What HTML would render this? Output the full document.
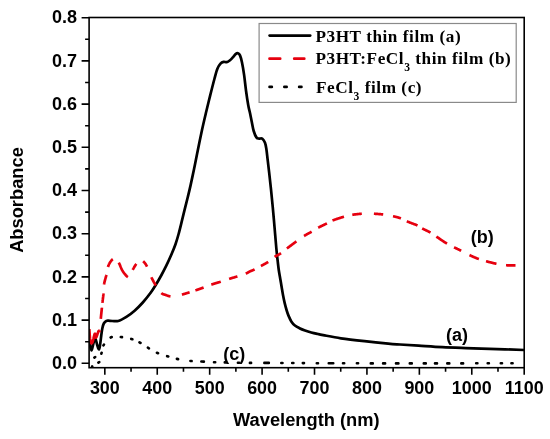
<!DOCTYPE html>
<html><head><meta charset="utf-8"><style>
html,body{margin:0;padding:0;background:#fff;width:550px;height:439px;overflow:hidden}
svg{display:block}
.t{font-family:"Liberation Sans",Arial,sans-serif;font-weight:bold;fill:#000}
.s{font-family:"Liberation Serif","Times New Roman",serif;font-weight:bold;fill:#000}
</style></head><body>
<svg width="550" height="439" viewBox="0 0 550 439">
<rect width="550" height="439" fill="#fff"/>
<defs><clipPath id="pc"><rect x="89.10" y="17.50" width="435.10" height="350.20"/></clipPath></defs>
<g clip-path="url(#pc)">
<path d="M89.40 342.50C89.75 343.83 90.82 350.42 91.50 350.50C92.18 350.58 92.85 345.00 93.50 343.00C94.15 341.00 94.78 338.17 95.40 338.50C96.02 338.83 96.60 343.17 97.20 345.00C97.80 346.83 98.50 349.67 99.00 349.50C99.50 349.33 99.83 346.25 100.20 344.00C100.57 341.75 100.85 338.58 101.20 336.00C101.55 333.42 101.87 330.58 102.30 328.50C102.73 326.42 103.13 324.77 103.80 323.50C104.47 322.23 105.27 321.35 106.30 320.90C107.33 320.45 108.02 320.78 110.00 320.80C111.98 320.82 115.47 321.65 118.20 321.00C120.93 320.35 123.67 318.62 126.40 316.90C129.13 315.18 131.87 313.10 134.60 310.70C137.33 308.30 140.07 305.57 142.80 302.50C145.53 299.43 148.80 295.30 151.00 292.30C153.20 289.30 154.30 287.30 156.00 284.50C157.70 281.70 159.48 278.63 161.20 275.50C162.92 272.37 164.60 269.20 166.30 265.70C168.00 262.20 169.87 258.08 171.40 254.50C172.93 250.92 174.30 247.62 175.50 244.20C176.70 240.78 177.57 237.75 178.60 234.00C179.63 230.25 180.68 225.80 181.70 221.70C182.72 217.60 183.68 213.52 184.70 209.40C185.72 205.28 186.83 200.97 187.80 197.00C188.77 193.03 189.47 190.23 190.50 185.60C191.53 180.97 192.87 174.67 194.00 169.20C195.13 163.73 195.97 159.33 197.30 152.80C198.63 146.27 200.52 136.83 202.00 130.00C203.48 123.17 204.83 117.57 206.20 111.80C207.57 106.03 208.83 100.87 210.20 95.40C211.57 89.93 213.20 83.45 214.40 79.00C215.60 74.55 216.38 71.27 217.40 68.70C218.42 66.13 219.47 64.73 220.50 63.60C221.53 62.47 222.57 62.15 223.60 61.90C224.63 61.65 225.68 62.33 226.70 62.10C227.72 61.87 228.68 61.28 229.70 60.50C230.72 59.72 231.77 58.50 232.80 57.40C233.83 56.30 235.05 54.58 235.90 53.90C236.75 53.22 237.22 53.05 237.90 53.30C238.58 53.55 239.32 53.87 240.00 55.40C240.68 56.93 241.32 59.25 242.00 62.50C242.68 65.75 243.42 70.10 244.10 74.90C244.78 79.70 245.42 86.28 246.10 91.30C246.78 96.32 247.55 101.38 248.20 105.00C248.85 108.62 249.40 110.18 250.00 113.00C250.60 115.82 251.18 118.90 251.80 121.90C252.42 124.90 252.93 128.42 253.70 131.00C254.47 133.58 255.50 136.13 256.40 137.40C257.30 138.67 258.13 138.40 259.10 138.60C260.07 138.80 261.22 137.90 262.20 138.60C263.18 139.30 264.30 141.03 265.00 142.80C265.70 144.57 265.95 146.32 266.40 149.20C266.85 152.08 267.23 156.15 267.70 160.10C268.17 164.05 268.65 168.03 269.20 172.90C269.75 177.77 270.40 183.52 271.00 189.30C271.60 195.08 272.20 201.15 272.80 207.60C273.40 214.05 274.02 221.27 274.60 228.00C275.18 234.73 275.77 242.33 276.30 248.00C276.83 253.67 277.38 258.30 277.80 262.00C278.22 265.70 278.40 267.47 278.80 270.20C279.20 272.93 279.73 275.65 280.20 278.40C280.67 281.15 281.13 283.95 281.60 286.70C282.07 289.45 282.48 292.17 283.00 294.90C283.52 297.63 284.08 300.50 284.70 303.10C285.32 305.70 286.05 308.37 286.70 310.50C287.35 312.63 287.83 314.08 288.60 315.90C289.37 317.72 290.25 319.80 291.30 321.40C292.35 323.00 293.53 324.37 294.90 325.50C296.27 326.63 297.82 327.37 299.50 328.20C301.18 329.03 303.03 329.78 305.00 330.50C306.97 331.22 309.18 331.92 311.30 332.50C313.42 333.08 315.72 333.57 317.70 334.00C319.68 334.43 319.33 334.38 323.20 335.10C327.07 335.82 334.02 337.28 340.90 338.30C347.78 339.32 356.62 340.32 364.50 341.20C372.38 342.08 382.28 343.05 388.20 343.60C394.12 344.15 394.93 344.15 400.00 344.50C405.07 344.85 411.55 345.25 418.60 345.70C425.65 346.15 434.42 346.80 442.30 347.20C450.18 347.60 458.03 347.83 465.90 348.10C473.77 348.37 479.78 348.48 489.50 348.80C499.22 349.12 518.42 349.80 524.20 350.00" fill="none" stroke="#000" stroke-width="2.70" stroke-linejoin="round" stroke-linecap="round"/>
<path d="M89.30 329.00L89.32 329.29L89.35 329.63L89.38 330.02L89.41 330.47L89.44 330.95L89.48 331.47L89.52 332.02L89.56 332.60L89.60 333.20L89.64 333.81L89.68 334.44L89.73 335.07L89.78 335.70L89.83 336.33L89.88 336.95L89.93 337.56L89.99 338.15L90.04 338.71L90.10 339.24L90.16 339.74L90.22 340.20L90.28 340.62L90.34 340.99L90.40 341.30L90.46 341.57L90.53 341.83L90.60 342.06L90.66 342.27L90.73 342.46L90.80 342.64L90.88 342.79L90.95 342.92L91.03 343.04L91.10 343.13L91.18 343.21L91.26 343.27L91.34 343.31L91.43 343.33L91.51 343.34L91.59 343.32L91.68 343.29L91.76 343.24L91.85 343.18L91.94 343.10L92.03 343.00L92.12 342.88L92.21 342.75L92.30 342.60L92.39 342.42L92.49 342.18L92.59 341.90L92.70 341.57L92.80 341.21L92.91 340.81L93.02 340.39L93.14 339.95L93.25 339.49L93.36 339.01L93.48 338.53L93.59 338.04L93.71 337.56L93.82 337.08L93.93 336.62L94.04 336.17L94.15 335.75L94.25 335.35L94.35 334.98L94.45 334.65L94.55 334.37L94.64 334.12L94.72 333.93L94.80 333.80L94.87 333.73L94.94 333.71L95.00 333.74L95.06 333.82L95.11 333.94L95.16 334.10L95.21 334.29L95.25 334.51L95.29 334.75L95.33 335.00L95.36 335.27L95.40 335.54L95.44 335.82L95.47 336.09L95.51 336.36L95.55 336.61L95.59 336.85L95.64 337.06L95.69 337.25L95.74 337.41L95.80 337.52L95.86 337.60L95.93 337.62L96.00 337.60L96.08 337.53L96.17 337.41L96.26 337.26L96.36 337.07L96.46 336.85L96.56 336.60L96.67 336.33L96.78 336.04L96.90 335.73L97.01 335.40L97.13 335.07L97.24 334.73L97.36 334.38L97.48 334.03L97.59 333.69L97.71 333.35L97.82 333.02L97.93 332.71L98.04 332.41L98.14 332.14L98.24 331.88L98.33 331.66L98.42 331.46L98.50 331.30L98.58 331.17L98.65 331.06L98.73 330.98L98.80 330.92L98.86 330.87L98.93 330.85L98.99 330.83L99.05 330.83L99.11 330.84L99.17 330.85L99.22 330.88L99.27 330.90L99.33 330.93L99.38 330.95L99.42 330.97L99.47 330.99L99.52 331.00L99.56 331.00L99.60 330.99L99.64 330.97L99.68 330.93L99.72 330.88L99.76 330.80L99.80 330.70L99.84 330.58L99.87 330.46L99.90 330.33 M100.80 318.80L100.80 318.80L100.83 318.40L100.87 317.99L100.91 317.55L100.96 317.09L101.00 316.62L101.05 316.13L101.10 315.63L101.14 315.13L101.19 314.61L101.25 314.09L101.30 313.57L101.35 313.05L101.40 312.53L101.45 312.02L101.51 311.51L101.56 311.01L101.60 310.52L101.65 310.04L101.70 309.58L101.74 309.14L101.79 308.72L101.83 308.32L101.87 307.95L101.90 307.60L101.90 307.60 M102.40 302.80L102.40 302.80L102.43 302.49L102.47 302.17L102.51 301.83L102.56 301.48L102.60 301.12L102.65 300.74L102.70 300.35L102.74 299.96L102.79 299.55L102.85 299.14L102.90 298.72L102.95 298.30L103.00 297.87L103.05 297.45L103.11 297.02L103.16 296.59L103.20 296.16L103.25 295.74L103.30 295.31L103.34 294.90L103.39 294.49L103.43 294.08L103.47 293.69L103.50 293.30L103.50 293.30 M104.00 284.50L104.00 284.50L104.06 284.11L104.14 283.72L104.21 283.33L104.30 282.93L104.39 282.52L104.49 282.12L104.59 281.71L104.69 281.30L104.80 280.88L104.91 280.47L105.02 280.06L105.13 279.64L105.25 279.23L105.36 278.82L105.48 278.41L105.59 278.00L105.70 277.60L105.81 277.20L105.92 276.80L106.02 276.41L106.13 276.02L106.22 275.64L106.31 275.27L106.40 274.90L106.40 274.90 M108.00 267.00L108.00 267.00L108.08 266.75L108.15 266.50L108.23 266.27L108.30 266.04L108.38 265.82L108.45 265.61L108.53 265.40L108.61 265.20L108.69 265.01L108.76 264.82L108.84 264.64L108.92 264.46L109.01 264.29L109.09 264.12L109.17 263.95L109.26 263.79L109.35 263.62L109.43 263.46L109.52 263.30L109.62 263.14L109.71 262.98L109.80 262.82L109.90 262.66L110.00 262.50L110.10 262.34L110.21 262.17L110.31 262.01L110.42 261.85L110.53 261.69L110.65 261.53L110.76 261.37L110.88 261.21L111.00 261.06L111.12 260.90L111.24 260.75L111.36 260.61L111.48 260.46L111.60 260.32L111.72 260.19L111.84 260.06L111.97 259.93L112.09 259.81L112.21 259.69L112.33 259.58L112.45 259.48L112.57 259.38L112.68 259.28L112.80 259.20L112.80 259.20 M118.80 262.70L118.80 262.70L118.95 262.97L119.10 263.26L119.25 263.56L119.40 263.88L119.55 264.21L119.70 264.55L119.85 264.91L120.01 265.27L120.16 265.64L120.32 266.02L120.47 266.40L120.63 266.78L120.79 267.17L120.95 267.55L121.12 267.94L121.28 268.32L121.45 268.70L121.62 269.07L121.79 269.43L121.97 269.79L122.15 270.14L122.33 270.47L122.51 270.79L122.70 271.10L122.89 271.40L123.10 271.71L123.31 272.02L123.52 272.33L123.75 272.64L123.97 272.95L124.21 273.25L124.44 273.56L124.68 273.86L124.92 274.15L125.16 274.44L125.39 274.72L125.63 275.00L125.87 275.26L126.10 275.51L126.33 275.75L126.55 275.98L126.77 276.19L126.98 276.39L127.18 276.57L127.38 276.73L127.56 276.87L127.74 277.00L127.90 277.10L127.90 277.10 M132.70 269.90L132.70 269.90L132.83 269.66L132.96 269.41L133.09 269.16L133.23 268.90L133.38 268.64L133.52 268.38L133.67 268.12L133.82 267.86L133.98 267.60L134.13 267.33L134.29 267.07L134.44 266.81L134.60 266.55L134.76 266.29L134.92 266.03L135.08 265.77L135.24 265.52L135.39 265.28L135.55 265.03L135.70 264.79L135.86 264.56L136.01 264.33L136.15 264.11L136.30 263.90L136.30 263.90 M143.10 261.20L143.10 261.20L143.26 261.35L143.41 261.50L143.57 261.66L143.73 261.82L143.90 261.99L144.06 262.17L144.22 262.35L144.39 262.54L144.55 262.74L144.72 262.94L144.88 263.15L145.05 263.38L145.22 263.60L145.39 263.84L145.56 264.08L145.73 264.34L145.90 264.60L146.07 264.87L146.24 265.15L146.41 265.44L146.58 265.74L146.75 266.05L146.93 266.37L147.10 266.70L147.10 266.70 M151.40 277.30L151.40 277.30L151.58 277.69L151.76 278.07L151.95 278.44L152.13 278.81L152.31 279.18L152.49 279.54L152.67 279.89L152.85 280.24L153.03 280.58L153.21 280.92L153.39 281.26L153.58 281.59L153.76 281.93L153.94 282.25L154.13 282.58L154.32 282.91L154.51 283.23L154.70 283.56L154.89 283.88L155.09 284.20L155.29 284.52L155.49 284.85L155.69 285.17L155.90 285.50L155.90 285.50 M161.40 293.00L161.40 293.00L161.60 293.19L161.79 293.36L161.97 293.51L162.15 293.65L162.33 293.77L162.50 293.88L162.67 293.98L162.84 294.06L163.00 294.14L163.16 294.21L163.32 294.27L163.48 294.32L163.64 294.37L163.80 294.42L163.96 294.46L164.12 294.50L164.28 294.54L164.44 294.58L164.61 294.63L164.78 294.67L164.95 294.72L165.13 294.77L165.31 294.83L165.50 294.90L165.69 294.97L165.88 295.05L166.08 295.12L166.28 295.20L166.47 295.27L166.68 295.35L166.88 295.42L167.08 295.50L167.29 295.58L167.49 295.65L167.70 295.72L167.91 295.79L168.12 295.86L168.34 295.93L168.55 295.99L168.76 296.06L168.98 296.11L169.19 296.17L169.41 296.22L169.63 296.26L169.84 296.31L170.06 296.34L170.28 296.37L170.50 296.40L170.50 296.40 M181.90 294.60L181.90 294.60L182.19 294.52L182.48 294.44L182.79 294.35L183.10 294.26L183.42 294.17L183.74 294.08L184.07 293.98L184.40 293.89L184.74 293.79L185.08 293.69L185.42 293.58L185.76 293.48L186.10 293.38L186.44 293.28L186.77 293.17L187.11 293.07L187.44 292.97L187.77 292.87L188.09 292.77L188.41 292.67L188.72 292.57L189.02 292.48L189.31 292.39L189.60 292.30L189.60 292.30 M195.40 290.40L195.40 290.40L195.70 290.30L196.00 290.19L196.31 290.09L196.63 289.97L196.96 289.86L197.29 289.75L197.63 289.63L197.97 289.51L198.32 289.39L198.67 289.26L199.03 289.14L199.38 289.01L199.74 288.89L200.10 288.76L200.46 288.63L200.81 288.50L201.17 288.38L201.53 288.25L201.88 288.12L202.23 287.99L202.58 287.87L202.93 287.74L203.27 287.62L203.60 287.50L203.60 287.50 M211.30 284.60L211.30 284.60L211.66 284.48L212.03 284.36L212.41 284.24L212.79 284.12L213.18 283.99L213.58 283.87L213.98 283.75L214.38 283.63L214.78 283.51L215.19 283.39L215.60 283.27L216.01 283.14L216.42 283.02L216.84 282.90L217.25 282.78L217.66 282.66L218.06 282.54L218.47 282.42L218.87 282.30L219.27 282.18L219.66 282.06L220.04 281.94L220.43 281.82L220.80 281.70L220.80 281.70 M229.10 278.90L229.10 278.90L229.45 278.79L229.79 278.68L230.14 278.58L230.48 278.47L230.83 278.36L231.17 278.26L231.52 278.16L231.87 278.06L232.21 277.95L232.56 277.85L232.90 277.75L233.25 277.65L233.60 277.55L233.94 277.45L234.29 277.35L234.63 277.24L234.98 277.14L235.32 277.04L235.67 276.94L236.02 276.83L236.36 276.72L236.71 276.62L237.05 276.51L237.40 276.40L237.40 276.40 M245.70 273.60L245.70 273.60L245.96 273.50L246.20 273.40L246.43 273.29L246.64 273.20L246.85 273.10L247.05 273.00L247.24 272.91L247.42 272.81L247.59 272.72L247.76 272.63L247.92 272.54L248.08 272.45L248.24 272.36L248.39 272.27L248.54 272.18L248.69 272.10L248.84 272.01L249.00 271.92L249.15 271.83L249.31 271.75L249.48 271.66L249.64 271.57L249.82 271.49L250.00 271.40L250.18 271.31L250.37 271.23L250.55 271.15L250.73 271.07L250.91 270.99L251.09 270.92L251.27 270.84L251.45 270.77L251.63 270.70L251.81 270.62L251.99 270.55L252.18 270.47L252.36 270.40L252.55 270.32L252.74 270.24L252.93 270.16L253.12 270.08L253.32 269.99L253.53 269.90L253.73 269.81L253.94 269.72L254.16 269.62L254.38 269.51L254.60 269.40L254.60 269.40 M260.90 266.00L260.90 266.00L261.19 265.84L261.48 265.69L261.77 265.53L262.07 265.37L262.37 265.21L262.68 265.05L262.98 264.88L263.29 264.72L263.60 264.55L263.92 264.39L264.23 264.22L264.54 264.05L264.86 263.88L265.17 263.71L265.48 263.53L265.80 263.36L266.11 263.18L266.41 263.00L266.72 262.82L267.02 262.64L267.32 262.46L267.62 262.28L267.91 262.09L268.20 261.90L268.20 261.90 M274.60 256.90L274.60 256.90L274.87 256.72L275.13 256.55L275.40 256.38L275.67 256.22L275.94 256.06L276.21 255.91L276.48 255.76L276.75 255.61L277.02 255.46L277.29 255.32L277.56 255.17L277.83 255.03L278.10 254.89L278.37 254.75L278.64 254.60L278.90 254.46L279.17 254.31L279.44 254.16L279.70 254.01L279.96 253.86L280.22 253.70L280.48 253.54L280.74 253.37L281.00 253.20L281.00 253.20 M286.90 248.50L286.90 248.50L287.23 248.25L287.57 247.99L287.93 247.72L288.30 247.44L288.68 247.15L289.07 246.85L289.46 246.55L289.87 246.25L290.28 245.94L290.70 245.63L291.12 245.31L291.54 244.99L291.97 244.68L292.39 244.36L292.82 244.04L293.24 243.73L293.66 243.42L294.07 243.11L294.48 242.81L294.88 242.51L295.28 242.22L295.66 241.94L296.04 241.67L296.40 241.40L296.40 241.40 M304.00 236.00L304.00 236.00L304.32 235.80L304.64 235.60L304.96 235.41L305.28 235.22L305.60 235.03L305.92 234.84L306.25 234.66L306.57 234.47L306.89 234.29L307.22 234.12L307.54 233.94L307.86 233.76L308.18 233.59L308.50 233.41L308.82 233.24L309.14 233.07L309.46 232.90L309.77 232.73L310.08 232.56L310.39 232.39L310.70 232.22L311.00 232.04L311.30 231.87L311.60 231.70L311.60 231.70 M318.20 227.70L318.20 227.70L318.52 227.53L318.86 227.35L319.21 227.17L319.56 226.98L319.93 226.80L320.30 226.61L320.68 226.43L321.06 226.24L321.44 226.05L321.83 225.86L322.22 225.67L322.61 225.48L323.00 225.29L323.39 225.11L323.77 224.92L324.15 224.74L324.53 224.56L324.89 224.38L325.25 224.21L325.61 224.04L325.95 223.87L326.28 223.71L326.60 223.55L326.90 223.40L326.90 223.40 M332.50 220.50L332.50 220.50L332.87 220.36L333.26 220.21L333.68 220.06L334.11 219.90L334.57 219.73L335.04 219.57L335.52 219.40L336.01 219.23L336.52 219.06L337.04 218.88L337.56 218.71L338.08 218.54L338.61 218.37L339.14 218.19L339.66 218.03L340.19 217.86L340.70 217.70L341.21 217.54L341.71 217.38L342.20 217.23L342.68 217.09L343.13 216.95L343.58 216.82L344.00 216.70L344.00 216.70 M352.30 214.80L352.30 214.80L352.68 214.74L353.06 214.68L353.46 214.62L353.86 214.56L354.27 214.50L354.68 214.45L355.10 214.40L355.52 214.34L355.94 214.29L356.37 214.24L356.79 214.20L357.21 214.15L357.63 214.10L358.05 214.06L358.46 214.02L358.87 213.98L359.27 213.94L359.66 213.90L360.05 213.86L360.42 213.83L360.79 213.79L361.14 213.76L361.48 213.73L361.80 213.70L361.80 213.70 M373.90 213.70L373.90 213.70L374.23 213.72L374.57 213.75L374.92 213.77L375.28 213.79L375.64 213.82L376.01 213.84L376.39 213.87L376.77 213.90L377.15 213.92L377.54 213.95L377.94 213.98L378.34 214.01L378.74 214.04L379.14 214.08L379.55 214.11L379.96 214.15L380.36 214.19L380.77 214.22L381.18 214.27L381.59 214.31L381.99 214.35L382.40 214.40L382.80 214.45L383.20 214.50L383.20 214.50 M393.00 216.20L393.00 216.20L393.37 216.28L393.73 216.36L394.09 216.45L394.45 216.53L394.80 216.61L395.16 216.70L395.50 216.78L395.85 216.87L396.19 216.96L396.53 217.05L396.86 217.13L397.19 217.23L397.52 217.32L397.85 217.41L398.17 217.50L398.49 217.60L398.80 217.69L399.11 217.79L399.42 217.89L399.72 217.99L400.02 218.09L400.32 218.19L400.61 218.29L400.90 218.40L400.90 218.40 M406.80 221.30L406.80 221.30L407.16 221.45L407.54 221.61L407.95 221.77L408.38 221.94L408.82 222.11L409.28 222.29L409.75 222.47L410.23 222.65L410.72 222.84L411.22 223.02L411.72 223.21L412.23 223.40L412.73 223.59L413.22 223.78L413.72 223.96L414.20 224.15L414.67 224.33L415.13 224.51L415.58 224.69L416.01 224.86L416.42 225.03L416.80 225.19L417.16 225.35L417.50 225.50L417.50 225.50 M422.20 228.40L422.20 228.40L422.48 228.55L422.77 228.71L423.08 228.86L423.40 229.03L423.74 229.19L424.08 229.36L424.43 229.54L424.79 229.71L425.15 229.89L425.52 230.07L425.90 230.25L426.27 230.43L426.65 230.61L427.03 230.80L427.41 230.98L427.78 231.17L428.15 231.35L428.51 231.53L428.87 231.72L429.21 231.90L429.55 232.08L429.88 232.25L430.20 232.43L430.50 232.60L430.50 232.60 M436.40 236.60L436.40 236.60L436.75 236.84L437.13 237.09L437.52 237.36L437.94 237.64L438.36 237.94L438.80 238.24L439.25 238.55L439.71 238.87L440.18 239.19L440.66 239.52L441.14 239.84L441.62 240.17L442.11 240.50L442.59 240.83L443.07 241.16L443.55 241.48L444.02 241.79L444.49 242.10L444.94 242.40L445.38 242.68L445.81 242.96L446.22 243.22L446.62 243.47L447.00 243.70L447.00 243.70 M454.10 247.30L454.10 247.30L454.39 247.45L454.69 247.59L454.98 247.74L455.27 247.88L455.56 248.02L455.85 248.16L456.13 248.30L456.42 248.44L456.71 248.58L457.00 248.72L457.29 248.87L457.57 249.01L457.87 249.15L458.16 249.29L458.45 249.43L458.74 249.58L459.04 249.72L459.34 249.87L459.64 250.02L459.95 250.17L460.26 250.32L460.57 250.48L460.88 250.64L461.20 250.80L461.20 250.80 M469.50 255.10L469.50 255.10L469.87 255.27L470.25 255.45L470.64 255.63L471.03 255.81L471.43 255.99L471.83 256.17L472.23 256.35L472.64 256.53L473.05 256.71L473.46 256.88L473.87 257.06L474.27 257.24L474.68 257.41L475.09 257.58L475.50 257.75L475.90 257.92L476.29 258.08L476.69 258.24L477.07 258.40L477.45 258.55L477.83 258.69L478.19 258.83L478.55 258.97L478.90 259.10L478.90 259.10 M486.00 261.20L486.00 261.20L486.37 261.30L486.76 261.40L487.16 261.51L487.56 261.62L487.98 261.73L488.41 261.84L488.84 261.96L489.29 262.07L489.73 262.19L490.18 262.31L490.64 262.43L491.10 262.54L491.56 262.66L492.02 262.78L492.49 262.89L492.95 263.00L493.41 263.11L493.87 263.22L494.32 263.33L494.77 263.43L495.21 263.53L495.65 263.62L496.08 263.71L496.50 263.80L496.50 263.80 M506.00 265.20L506.00 265.20L506.40 265.23L506.82 265.25L507.25 265.28L507.69 265.29L508.14 265.31L508.60 265.32L509.06 265.33L509.52 265.33L509.98 265.34L510.44 265.34L510.89 265.34L511.34 265.34L511.78 265.33L512.22 265.33L512.63 265.33L513.04 265.32L513.42 265.32L513.79 265.31L514.14 265.31L514.47 265.30L514.77 265.30L515.04 265.30L515.29 265.30L515.50 265.30" fill="none" stroke="#e6000f" stroke-width="2.7" stroke-linejoin="round" stroke-linecap="butt"/>
<path d="M91.96 367.38L92.24 366.42 M94.39 357.58L95.21 357.02 M98.37 362.56L99.23 362.04 M101.36 353.68L101.64 352.72 M103.44 345.43L103.96 344.57 M110.65 337.54L111.75 337.06 M120.80 337.05L122.00 337.15 M131.23 338.93L132.37 339.27 M139.47 342.42L140.53 342.98 M147.88 347.70L148.92 348.30 M156.95 352.76L158.05 353.24 M167.13 356.13L168.27 356.47 M176.91 358.88L178.09 359.12 M190.40 360.94L191.60 361.06 M201.35 361.54L203.85 361.66 M214.00 362.18L215.20 362.22 M224.80 362.39L226.00 362.41 M237.90 362.69L239.10 362.71 M249.90 362.90L251.10 362.90 M264.35 362.89L268.85 362.91 M281.30 363.00L282.50 363.00 M292.20 363.00L293.40 363.00 M302.80 363.10L304.00 363.10 M316.80 363.20L318.00 363.20 M328.75 363.19L333.25 363.21 M343.00 363.30L344.20 363.30 M356.90 363.30L358.10 363.30 M370.80 363.40L372.80 363.40 M383.10 363.40L385.10 363.40 M396.00 363.40L398.40 363.40 M409.80 363.40L411.80 363.40 M423.80 363.40L425.80 363.40 M435.00 363.40L437.00 363.40 M447.30 363.40L449.30 363.40 M461.30 363.40L463.10 363.40 M476.20 363.30L477.40 363.30 M487.70 363.30L488.90 363.30 M500.80 363.30L502.00 363.30 M511.40 363.30L512.60 363.30" fill="none" stroke="#000" stroke-width="2.6" stroke-linecap="round"/>
</g>
<rect x="89.10" y="17.50" width="435.10" height="350.20" fill="none" stroke="#000" stroke-width="1.6"/>
<path d="M89.10 363.30H81.60 M89.10 341.70H85.10 M89.10 320.10H81.60 M89.10 298.50H85.10 M89.10 276.90H81.60 M89.10 255.30H85.10 M89.10 233.70H81.60 M89.10 212.10H85.10 M89.10 190.50H81.60 M89.10 168.90H85.10 M89.10 147.30H81.60 M89.10 125.70H85.10 M89.10 104.10H81.60 M89.10 82.50H85.10 M89.10 60.90H81.60 M89.10 39.30H85.10 M89.10 17.70H81.60 M104.83 367.70V374.70 M131.04 367.70V371.70 M157.25 367.70V374.70 M183.46 367.70V371.70 M209.67 367.70V374.70 M235.88 367.70V371.70 M262.09 367.70V374.70 M288.30 367.70V371.70 M314.51 367.70V374.70 M340.72 367.70V371.70 M366.93 367.70V374.70 M393.15 367.70V371.70 M419.36 367.70V374.70 M445.57 367.70V371.70 M471.78 367.70V374.70 M497.99 367.70V371.70 M524.20 367.70V374.70" stroke="#000" stroke-width="1.6" fill="none"/>
<text class="t" x="77" y="369.00" font-size="18" text-anchor="end">0.0</text>
<text class="t" x="77" y="325.80" font-size="18" text-anchor="end">0.1</text>
<text class="t" x="77" y="282.60" font-size="18" text-anchor="end">0.2</text>
<text class="t" x="77" y="239.40" font-size="18" text-anchor="end">0.3</text>
<text class="t" x="77" y="196.20" font-size="18" text-anchor="end">0.4</text>
<text class="t" x="77" y="153.00" font-size="18" text-anchor="end">0.5</text>
<text class="t" x="77" y="109.80" font-size="18" text-anchor="end">0.6</text>
<text class="t" x="77" y="66.60" font-size="18" text-anchor="end">0.7</text>
<text class="t" x="77" y="23.40" font-size="18" text-anchor="end">0.8</text>
<text class="t" x="104.83" y="393.8" font-size="17.9" text-anchor="middle">300</text>
<text class="t" x="157.25" y="393.8" font-size="17.9" text-anchor="middle">400</text>
<text class="t" x="209.67" y="393.8" font-size="17.9" text-anchor="middle">500</text>
<text class="t" x="262.09" y="393.8" font-size="17.9" text-anchor="middle">600</text>
<text class="t" x="314.51" y="393.8" font-size="17.9" text-anchor="middle">700</text>
<text class="t" x="366.93" y="393.8" font-size="17.9" text-anchor="middle">800</text>
<text class="t" x="419.36" y="393.8" font-size="17.9" text-anchor="middle">900</text>
<text class="t" x="471.78" y="393.8" font-size="17.9" text-anchor="middle">1000</text>
<text class="t" x="524.20" y="393.8" font-size="17.9" text-anchor="middle">1100</text>
<text class="t" font-size="18.3" text-anchor="middle" transform="translate(23.3 200) rotate(-90)">Absorbance</text>
<text class="t" x="306.3" y="426.2" font-size="18.3" text-anchor="middle">Wavelength (nm)</text>
<text class="t" x="482.2" y="242.5" font-size="18" text-anchor="middle">(b)</text>
<text class="t" x="457" y="340.8" font-size="18" text-anchor="middle">(a)</text>
<text class="t" x="234.2" y="360.3" font-size="18" text-anchor="middle">(c)</text>
<rect x="259.1" y="23.5" width="257.1" height="78.9" fill="#fff" stroke="#8a8a8a" stroke-width="1.2"/>
<path d="M269.6 35.6H310.2" stroke="#000" stroke-width="2.70" stroke-linecap="round"/>
<path d="M269.5 58.7H280.2M294.2 58.7H304.3" stroke="#e6000f" stroke-width="2.7" stroke-linecap="round"/>
<path d="M269.6 86.9H271.8M284.4 86.9H286.6M299.2 86.9H301.4" stroke="#000" stroke-width="2.8" stroke-linecap="round"/>
<text class="s" x="315.5" y="42" font-size="17.2" letter-spacing="0.55">P3HT thin film (a)</text>
<text class="s" x="315.5" y="64.4" font-size="17.2" letter-spacing="0.55">P3HT:FeCl<tspan font-size="11.6" dy="7">3</tspan><tspan dy="-7"> thin film (b)</tspan></text>
<text class="s" x="316" y="93" font-size="17.2" letter-spacing="0.55">FeCl<tspan font-size="11.6" dy="7">3</tspan><tspan dy="-7"> film (c)</tspan></text>
</svg>
</body></html>
